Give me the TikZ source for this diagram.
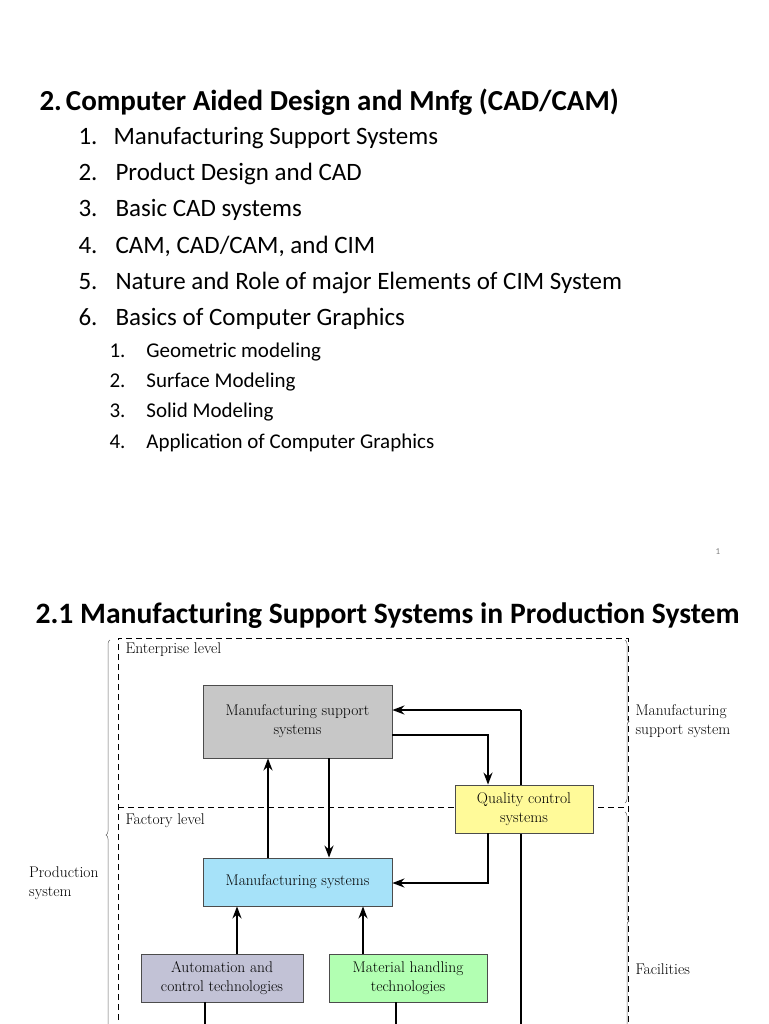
\documentclass[tikz,border=0pt]{standalone}
\usepackage{fontspec}
\setmainfont{Carlito}
\newfontfamily\lmr{Latin Modern Roman}
\usetikzlibrary{arrows.meta,decorations.pathreplacing,backgrounds}
\begin{document}
\begin{tikzpicture}[x=1pt,y=-1pt,
  box/.style={draw=black!70,line width=0.8pt,minimum width=#1,minimum height=48pt,inner sep=1pt,align=center,font=\lmr\fontsize{15.5}{19}\selectfont},
  arr/.style={line width=2.2pt,-{Stealth[length=12pt,width=9pt]}},
  ln/.style={line width=2.2pt},
  dsh/.style={line width=0.7pt,dash pattern=on 6pt off 4pt},
  lab/.style={font=\lmr\fontsize{15.5}{19}\selectfont,align=left,anchor=west},
  brace/.style={draw=black!60,line width=0.5pt,decorate,decoration={brace,amplitude=4pt}},
  it/.style={anchor=base west,font=\fontsize{25}{30}\selectfont},
  sit/.style={anchor=base west,font=\fontsize{21}{25}\selectfont}]
\useasboundingbox (0,0) rectangle (768,1024);
\node[anchor=base west,font=\bfseries\fontsize{29}{34}\selectfont] (t1) at (36,111) {2.\hspace{4pt}Computer Aided Design and Mnfg (CAD/CAM)};
\node[it] (i1) at (75,145) {1.\hspace{16pt}Manufacturing Support Systems};
\node[it] (i2) at (75,181) {2.\hspace{18pt}Product Design and CAD};
\node[it] (i3) at (75,217) {3.\hspace{18pt}Basic CAD systems};
\node[it] (i4) at (75,253) {4.\hspace{18pt}CAM, CAD/CAM, and CIM};
\node[it] (i5) at (75,289) {5.\hspace{18pt}Nature and Role of major Elements of CIM System};
\node[it] (i6) at (75,325) {6.\hspace{18pt}Basics of Computer Graphics};
\node[sit] (s1) at (106,357) {1.\hspace{21pt}Geometric modeling};
\node[sit] (s2) at (106,387) {2.\hspace{21pt}Surface Modeling};
\node[sit] (s3) at (106,417) {3.\hspace{21pt}Solid Modeling};
\node[sit] (s4) at (106,448) {4.\hspace{21pt}Application of Computer Graphics};
\node[anchor=base,font=\fontsize{9}{10}\selectfont,text=black!50] (pg) at (718,554) {1};
\node[anchor=base west,font=\bfseries\fontsize{29.6}{36}\selectfont] (t2) at (32,623) {2.1 Manufacturing Support Systems in Production System};
\node[lab] (el) at (122,650) {Enterprise level};
\node[lab] (fl) at (122,821) {Factory level};
% boxes
\node[box=189pt,minimum height=73pt,fill=black!22] (mss) at (297.5,721.5) {Manufacturing support\\systems};
\node[box=138pt,fill=yellow!40] (qc) at (524,809) {Quality control\\systems};
\node[box=189pt,fill=cyan!35] (ms) at (297.5,882) {Manufacturing systems};
\node[box=162pt,fill=blue!20!gray!40] (ac) at (222,978) {Automation and\\control technologies};
\node[box=158pt,fill=green!30] (mh) at (408,978) {Material handling\\technologies};
\coordinate (b1) at (521,1030);
\coordinate (b2) at (205,1030);
\coordinate (b3) at (396,1030);
\begin{scope}[on background layer]
\fill[white] (0,0) rectangle (768,1024);
\draw[dsh] (118,1030) -- (118,638) -- (628,638) -- (628,1030);
\draw[dsh] (118,807) -- (628,807);
\draw[ln] (b1) -- (521,710);
\end{scope}
% connectors
\draw[arr] (521,710) -- (mss.east |- 0,710);
\draw[arr] (mss.east |- 0,735) -| (qc.north -| 488,0);
\draw[arr] (ms.north -| 268,0) -- (mss.south -| 268,0);
\draw[arr] (mss.south -| 329,0) -- (ms.north -| 329,0);
\draw[arr] (qc.south -| 488,0) |- (ms.east |- 0,883);
\draw[arr] (ac.north -| 237,0) -- (ms.south -| 237,0);
\draw[arr] (mh.north -| 363,0) -- (ms.south -| 363,0);
\draw[ln] (ac.south -| 205,0) -- (b2);
\draw[ln] (mh.south -| 396,0) -- (b3);
% braces
\draw[brace] (110,1030) -- (110,640);
\node[lab,anchor=east] (ps) at (102,883) {Production\\system};
\draw[brace] (625,640) -- (625,803);
\node[lab] (msl) at (632,721) {Manufacturing\\support system};
\draw[brace] (625,812) -- (625,1030);
\node[lab] (fac) at (632,969) {Facilities};
\end{tikzpicture}
\end{document}
